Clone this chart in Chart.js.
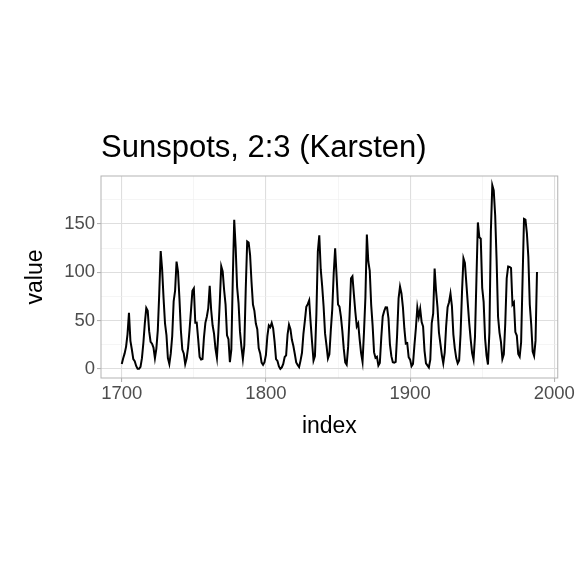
<!DOCTYPE html><html><head><script src="https://cdn.jsdelivr.net/npm/chart.js@4"></script>
<style>body{margin:0;background:#fff}</style></head><body><canvas id="c" width="576" height="576"></canvas><script>
const startYear=1700;
const values=[5,11,16,23,36,58,29,20,10,8,3,0,0,2,11,27,47,63,60,39,28,26,22,11,21,40,78,122,103,73,47,35,11,5,16,34,70,81,111,101,73,40,20,16,5,11,22,40,60,80.9,83.4,47.7,47.8,30.7,12.2,9.6,10.2,32.4,47.6,54,62.9,85.9,61.2,45.1,36.4,20.9,11.4,37.8,69.8,106.1,100.8,81.6,66.5,34.8,30.6,7,19.8,92.5,154.4,125.9,84.8,68.1,38.5,22.8,10.2,24.1,82.9,132,130.9,118.1,89.9,66.6,60,46.9,41,21.3,16,6.4,4.1,6.8,14.5,34,45,43.1,47.5,42.2,28.1,10.1,8.1,2.5,0,1.4,5,12.2,13.9,35.4,45.8,41.1,30.1,23.9,15.6,6.6,4,1.8,8.5,16.6,36.3,49.6,64.2,67,70.9,47.8,27.5,8.5,13.2,56.9,121.5,138.3,103.2,85.7,64.6,36.7,24.2,10.7,15,40.1,61.5,98.5,124.7,96.3,66.6,64.5,54.1,39,20.6,6.7,4.3,22.7,54.8,93.8,95.8,77.2,59.1,44,47,30.5,16.3,7.3,37.6,74,139,111.2,101.6,66.2,44.7,17,11.3,12.4,3.4,6,32.3,54.3,59.7,63.7,63.5,52.2,25.4,13.1,6.8,6.3,7.1,35.6,73,85.1,78,64,41.8,26.2,26.7,12.1,9.5,2.7,5,24.4,42,63.5,53.8,62,48.5,43.9,18.6,5.7,3.6,1.4,9.6,47.4,57.1,103.9,80.6,63.6,37.6,26.1,14.2,5.8,16.7,44.3,63.9,69,77.8,64.9,35.7,21.2,11.1,5.7,8.7,36.1,79.7,114.4,109.6,88.8,67.8,47.5,30.6,16.3,9.6,33.2,92.6,151.6,136.3,134.7,83.9,69.4,31.5,13.9,4.4,38,141.7,190.2,184.8,159,112.3,53.9,37.5,27.9,10.2,15.1,47,93.8,105.9,105.5,104.5,66.6,68.9,38,34.5,15.5,12.6,27.5,92.5,155.4,154.6,140.4,115.9,66.6,45.9,17.9,13.4,29.2,100.2];
const xMajor=[1700,1800,1900,2000];
const yMajor=[0,50,100,150];
const titleText="Sunspots, 2:3 (Karsten)";
const pts=values.map((v,i)=>({x:startYear+i,y:v}));
const F="'Liberation Sans', Arial, sans-serif";
const titlePlugin={id:'tp',afterDraw(ch){const c=ch.ctx;c.save();c.font="31px "+F;c.fillStyle="#000";c.textBaseline="alphabetic";c.fillText(titleText,ch.chartArea.left,157);
c.strokeStyle="#b3b3b3";c.lineWidth=1;const a=ch.chartArea;c.strokeRect(a.left,a.top,a.right-a.left,a.bottom-a.top);c.restore();}};
const isMaj=(arr,c)=>arr.includes(c.tick&&c.tick.value);
new Chart(document.getElementById('c'),{type:'line',data:{datasets:[{data:pts,borderColor:'#000',borderWidth:2,pointRadius:0,tension:0}]},
options:{responsive:false,animation:false,layout:{padding:{top:176,right:18,bottom:136,left:22}},plugins:{legend:{display:false},tooltip:{enabled:false}},
scales:{x:{type:'linear',min:1685.6,max:2002.4,afterFit(s){s.height=62},
afterBuildTicks(s){const t=[];for(let v=1700;v<=2000;v+=50)t.push({value:v});s.ticks=t},
ticks:{color:'#4d4d4d',font:{size:18.5,family:F},padding:1,maxRotation:0,autoSkip:false,callback:v=>xMajor.includes(v)?String(v):''},
grid:{color:c=>isMaj(xMajor,c)?'#dedede':'#efefef',lineWidth:c=>isMaj(xMajor,c)?1.1:0.6,tickLength:4,tickColor:c=>isMaj(xMajor,c)?'#b3b3b3':'rgba(0,0,0,0)'},border:{display:false},
title:{display:true,text:'index',color:'#000',font:{size:23,family:F},padding:{top:0,bottom:0}}},
y:{min:-9.5,max:199.7,afterFit(s){s.width=79},
afterBuildTicks(s){const t=[];for(let v=0;v<=175;v+=25)t.push({value:v});s.ticks=t},
ticks:{color:'#4d4d4d',font:{size:18.5,family:F},padding:2,autoSkip:false,callback:v=>yMajor.includes(v)?String(v):''},
grid:{color:c=>isMaj(yMajor,c)?'#dedede':'#efefef',lineWidth:c=>isMaj(yMajor,c)?1.1:0.6,tickLength:4,tickColor:c=>isMaj(yMajor,c)?'#b3b3b3':'rgba(0,0,0,0)'},border:{display:false},
title:{display:true,text:'value',color:'#000',font:{size:23,family:F},padding:{top:0,bottom:0}}}}},plugins:[titlePlugin]});
</script></body></html>
